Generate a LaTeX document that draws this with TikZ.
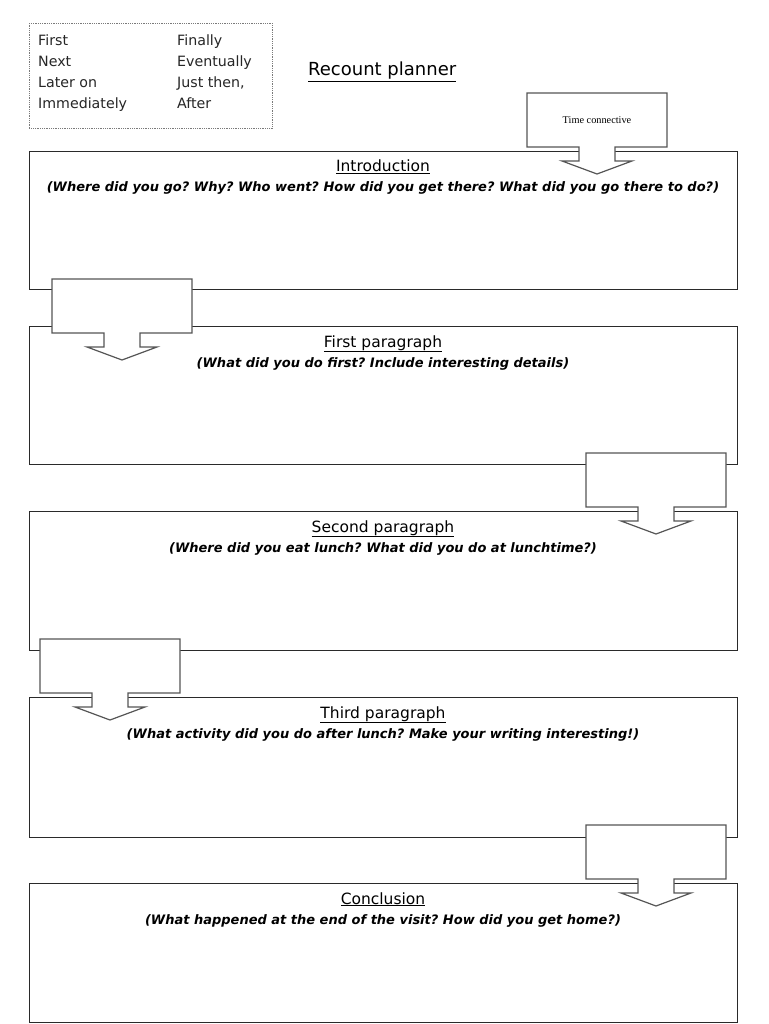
\documentclass[tikz,border=0pt]{standalone}
\usepackage{fontspec}
\setmainfont{DejaVu Sans}
\newfontfamily\timesfont{Liberation Serif}
\usetikzlibrary{calc}
\frenchspacing
\definecolor{boxgray}{HTML}{2A2A2A}
\definecolor{callgray}{HTML}{555555}
\definecolor{dotgray}{HTML}{7A7A7A}
\newcommand{\arrowbox}[4]{% name, centre x, top y, text
  \draw[callline] ({#2-70},#3) -- ({#2+70},#3) -- ({#2+70},{#3+54}) -- ({#2+18},{#3+54})
    -- ({#2+18},{#3+68}) -- ({#2+35},{#3+68}) -- (#2,{#3+81}) -- ({#2-35},{#3+68})
    -- ({#2-18},{#3+68}) -- ({#2-18},{#3+54}) -- ({#2-70},{#3+54}) -- cycle;
  \node[inner sep=0pt,font=\timesfont\fontsize{10.3}{12}\selectfont] (#1) at (#2,{#3+27}) {#4};
}
\begin{document}
\begin{tikzpicture}[x=1pt,y=-1pt,
  panel/.style={draw=boxgray,line width=1.3pt,anchor=north west,inner sep=0pt,minimum width=708pt},
  callline/.style={draw=callgray,line width=1.2pt,fill=white,line join=miter},
  heading/.style={anchor=base,inner sep=0pt,font=\fontsize{15.5}{18}\selectfont},
  question/.style={anchor=base,inner sep=0pt,font=\bfseries\itshape\fontsize{13}{16}\selectfont},
  word/.style={anchor=base west,inner sep=0pt,font=\fontsize{14.2}{17}\selectfont,text=black!85}]
\useasboundingbox[fill=white] (0,0) rectangle (768,1024);

% word bank
\node[draw=dotgray,densely dotted,line width=0.8pt,anchor=north west,inner sep=0pt,
      minimum width=243pt,minimum height=105pt] (bank) at (29,23) {};
\node[word] (w1) at (38,46) {First};
\node[word] (w2) at (38,67) {Next};
\node[word] (w3) at (38,88) {Later on};
\node[word] (w4) at (38,109) {Immediately};
\node[word] (w5) at (177,46) {Finally};
\node[word] (w6) at (177,67) {Eventually};
\node[word] (w7) at (177,88) {Just then,};
\node[word] (w8) at (177,109) {After};

% title
\node[anchor=base west,inner sep=0pt,font=\fontsize{18}{21}\selectfont] (title) at (308,76) {\underline{Recount planner}};

% panels
\node[panel,minimum height=138pt] (p1) at (29,151) {};
\node[panel,minimum height=138pt] (p2) at (29,326) {};
\node[panel,minimum height=139pt] (p3) at (29,511) {};
\node[panel,minimum height=140pt] (p4) at (29,697) {};
\node[panel,minimum height=139pt] (p5) at (29,883) {};

% arrow boxes
\arrowbox{a1}{597}{93}{Time connective}
\arrowbox{a2}{122}{279}{}
\arrowbox{a3}{656}{453}{}
\arrowbox{a4}{110}{639}{}
\arrowbox{a5}{656}{825}{}

% texts
\node[heading] (h1) at (383,172) {\underline{Introduction}};
\node[question] (q1) at (383,192) {(Where did you go? Why? Who went? How did you get there? What did you go there to do?)};
\node[heading] (h2) at (383,347) {\underline{First paragraph}};
\node[question] (q2) at (383,367) {(What did you do first? Include interesting details)};
\node[heading] (h3) at (383,532) {\underline{Second paragraph}};
\node[question] (q3) at (383,552) {(Where did you eat lunch? What did you do at lunchtime?)};
\node[heading] (h4) at (383,718) {\underline{Third paragraph}};
\node[question] (q4) at (383,738) {(What activity did you do after lunch? Make your writing interesting!)};
\node[heading] (h5) at (383,904) {\underline{Conclusion}};
\node[question] (q5) at (383,924) {(What happened at the end of the visit? How did you get home?)};
\end{tikzpicture}
\end{document}
